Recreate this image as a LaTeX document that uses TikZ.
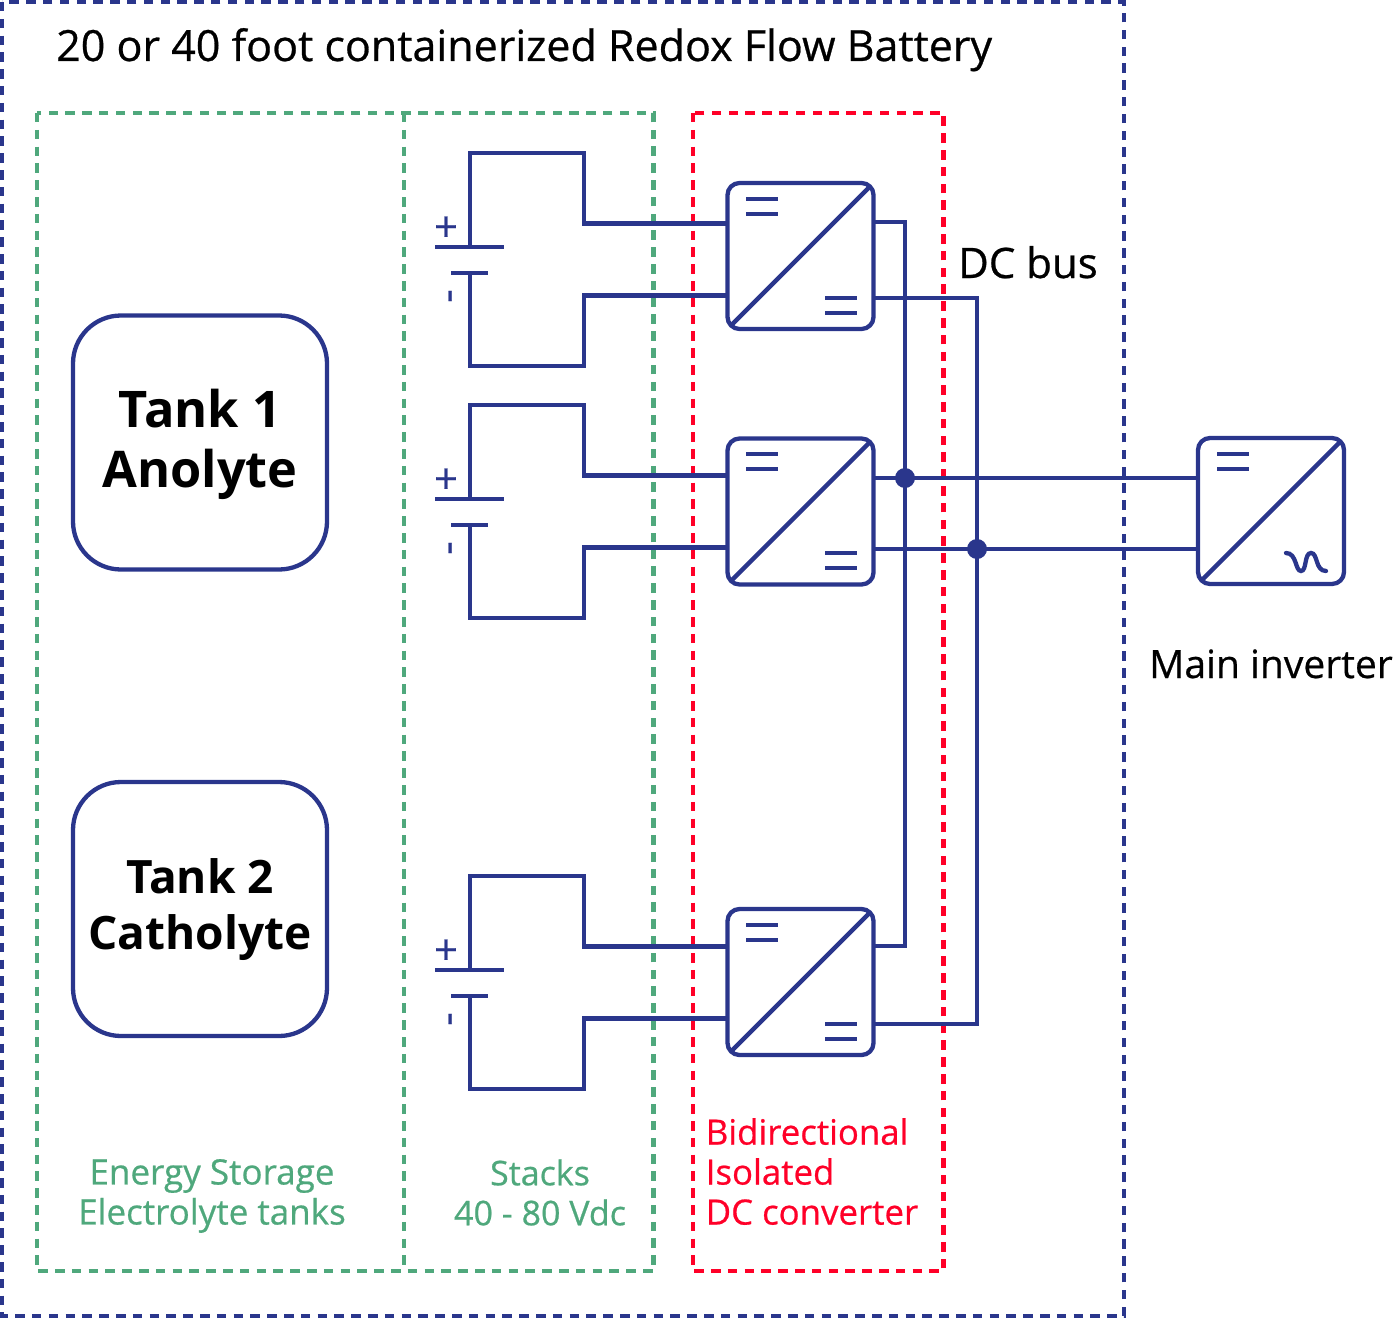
\documentclass[tikz,border=0pt]{standalone}
\usepackage{fontspec}
\setmainfont{Open Sans}
\newfontfamily\medfont[FakeBold=0.6]{Open Sans}
\definecolor{navy}{HTML}{2A368C}
\definecolor{tankgreen}{HTML}{4FA87C}
\definecolor{busred}{HTML}{FF0028}
\tikzset{
  wire/.style={draw=navy, line width=4.3pt, line join=miter},
  bar/.style={draw=navy, line width=4.3pt},
  frame/.style={line width=4.5pt, dash pattern=on 9.5pt off 7.3pt},
  conv/.style={draw=navy, line width=4.3pt, rounded corners=12pt, minimum size=146pt, inner sep=0pt, outer sep=0pt},
  tank/.style={draw=navy, line width=4.3pt, rounded corners=48pt, minimum size=254pt, inner sep=0pt, outer sep=0pt},
  dot/.style={circle, fill=navy, minimum size=20pt, inner sep=0pt, outer sep=0pt},
  sign/.style={text=navy, inner sep=0pt, font=\medfont\fontsize{42}{42}\selectfont},
}
\begin{document}
\begin{tikzpicture}[x=1pt,y=-1pt]
\useasboundingbox (0,0) rectangle (1394,1319);

\draw [frame, draw=navy] (2,2) rectangle (1124,1316);
\draw [frame, draw=tankgreen] (37,113) rectangle (653.5,1271);
\draw [frame, draw=tankgreen] (404,113) -- (404,1271);
\draw [frame, draw=busred] (693,113) rectangle (943.5,1271);

\node [anchor=base west, inner sep=0pt, font=\medfont\fontsize{43}{43}\selectfont] (title) at (56,61) {20 or 40 foot containerized Redox Flow Battery};

\node [tank] (tank1) at (200,442.5) {};
\node [tank] (tank2) at (200,909) {};
\node [align=center, inner sep=0pt, font=\bfseries\fontsize{50.5}{60}\selectfont] (name1) at (200,444) {Tank 1\\Anolyte};
\node [align=center, inner sep=0pt, font=\bfseries\fontsize{46}{56}\selectfont] (name2) at (200,910) {Tank 2\\Catholyte};

% converters
\node [conv] (conv1) at (800.5,256) {};
\node [conv] (conv2) at (800.5,511.5) {};
\node [conv] (conv3) at (800.5,982) {};
\node [conv] (inv) at (1271,511) {};

\draw [bar, shorten >=4pt, shorten <=4pt] (conv1.south west) -- (conv1.north east);
\draw [bar, shorten >=4pt, shorten <=4pt] (conv2.south west) -- (conv2.north east);
\draw [bar, shorten >=4pt, shorten <=4pt] (conv3.south west) -- (conv3.north east);
\draw [bar, shorten >=4pt, shorten <=4pt] (inv.south west) -- (inv.north east);

\draw [bar] (746,199) -- (778,199) (746,214) -- (778,214) (825,298) -- (857,298) (825,313) -- (857,313);
\draw [bar] (746,454) -- (778,454) (746,469) -- (778,469) (825,553) -- (857,553) (825,568) -- (857,568);
\draw [bar] (746,925) -- (778,925) (746,940) -- (778,940) (825,1024) -- (857,1024) (825,1039) -- (857,1039);
\draw [bar] (1217,454) -- (1249,454) (1217,469) -- (1249,469);
\draw [bar, line cap=round] (1286,553) .. controls (1297,553) and (1295,571) .. (1301,571) .. controls (1307,571) and (1304,553) .. (1311,553) .. controls (1318,553) and (1315,571) .. (1326,571);

% stack 1
\coordinate (plus1) at (470,247);
\coordinate (minus1) at (470,273);
\draw [bar] (435,247) -- (504,247) (451,273) -- (488,273);
\node [sign] (p1) at (446,229) {+};
\node [sign, rotate=90] (m1) at (455,296) {-};
\draw [wire] (plus1) -- (470,153) -- (584,153) -- (584,223.5) -- (conv1.west |- 0,223.5);
\draw [wire] (minus1) -- (470,366) -- (584,366) -- (584,295.5) -- (conv1.west |- 0,295.5);

% stack 2
\coordinate (plus2) at (470,499);
\coordinate (minus2) at (470,525);
\draw [bar] (435,499) -- (504,499) (451,525) -- (488,525);
\node [sign] (p2) at (446,481) {+};
\node [sign, rotate=90] (m2) at (455,548) {-};
\draw [wire] (plus2) -- (470,405) -- (584,405) -- (584,475.5) -- (conv2.west |- 0,475.5);
\draw [wire] (minus2) -- (470,618) -- (584,618) -- (584,547.5) -- (conv2.west |- 0,547.5);

% stack 3
\coordinate (plus3) at (470,970);
\coordinate (minus3) at (470,996);
\draw [bar] (435,970) -- (504,970) (451,996) -- (488,996);
\node [sign] (p3) at (446,952) {+};
\node [sign, rotate=90] (m3) at (455,1019) {-};
\draw [wire] (plus3) -- (470,876) -- (584,876) -- (584,946.5) -- (conv3.west |- 0,946.5);
\draw [wire] (minus3) -- (470,1089) -- (584,1089) -- (584,1018.5) -- (conv3.west |- 0,1018.5);

% DC bus
\node [dot] (jointop) at (905,478) {};
\node [dot] (joinbot) at (977,549) {};
\draw [wire] (conv1.east |- 0,222) -- (905,222) -- (jointop.center) -- (905,946) -- (conv3.east |- 0,946);
\draw [wire] (conv1.east |- 0,298) -- (977,298) -- (joinbot.center) -- (977,1024) -- (conv3.east |- 0,1024);
\draw [wire] (conv2.east |- 0,478) -- (jointop.center) -- (inv.west |- 0,478);
\draw [wire] (conv2.east |- 0,549) -- (joinbot.center) -- (inv.west |- 0,549);

\node [anchor=base west, inner sep=0pt, font=\medfont\fontsize{42}{42}\selectfont] (bus) at (958,278) {DC bus};
\node [anchor=base west, inner sep=0pt, font=\medfont\fontsize{39}{39}\selectfont] (main) at (1149,678) {Main inverter};

\node [align=center, inner sep=0pt, text=tankgreen, font=\medfont\fontsize{35}{40}\selectfont] (lab1) at (212,1196) {Energy Storage\\Electrolyte tanks};
\node [align=center, inner sep=0pt, text=tankgreen, font=\medfont\fontsize{34}{40}\selectfont] (lab2) at (540,1192.5) {Stacks\\40 - 80 Vdc};
\node [align=left, inner sep=0pt, text=busred, font=\medfont\fontsize{34.8}{40}\selectfont] (lab3) at (812,1171.5) {Bidirectional\\Isolated\\DC converter};
\end{tikzpicture}
\end{document}
